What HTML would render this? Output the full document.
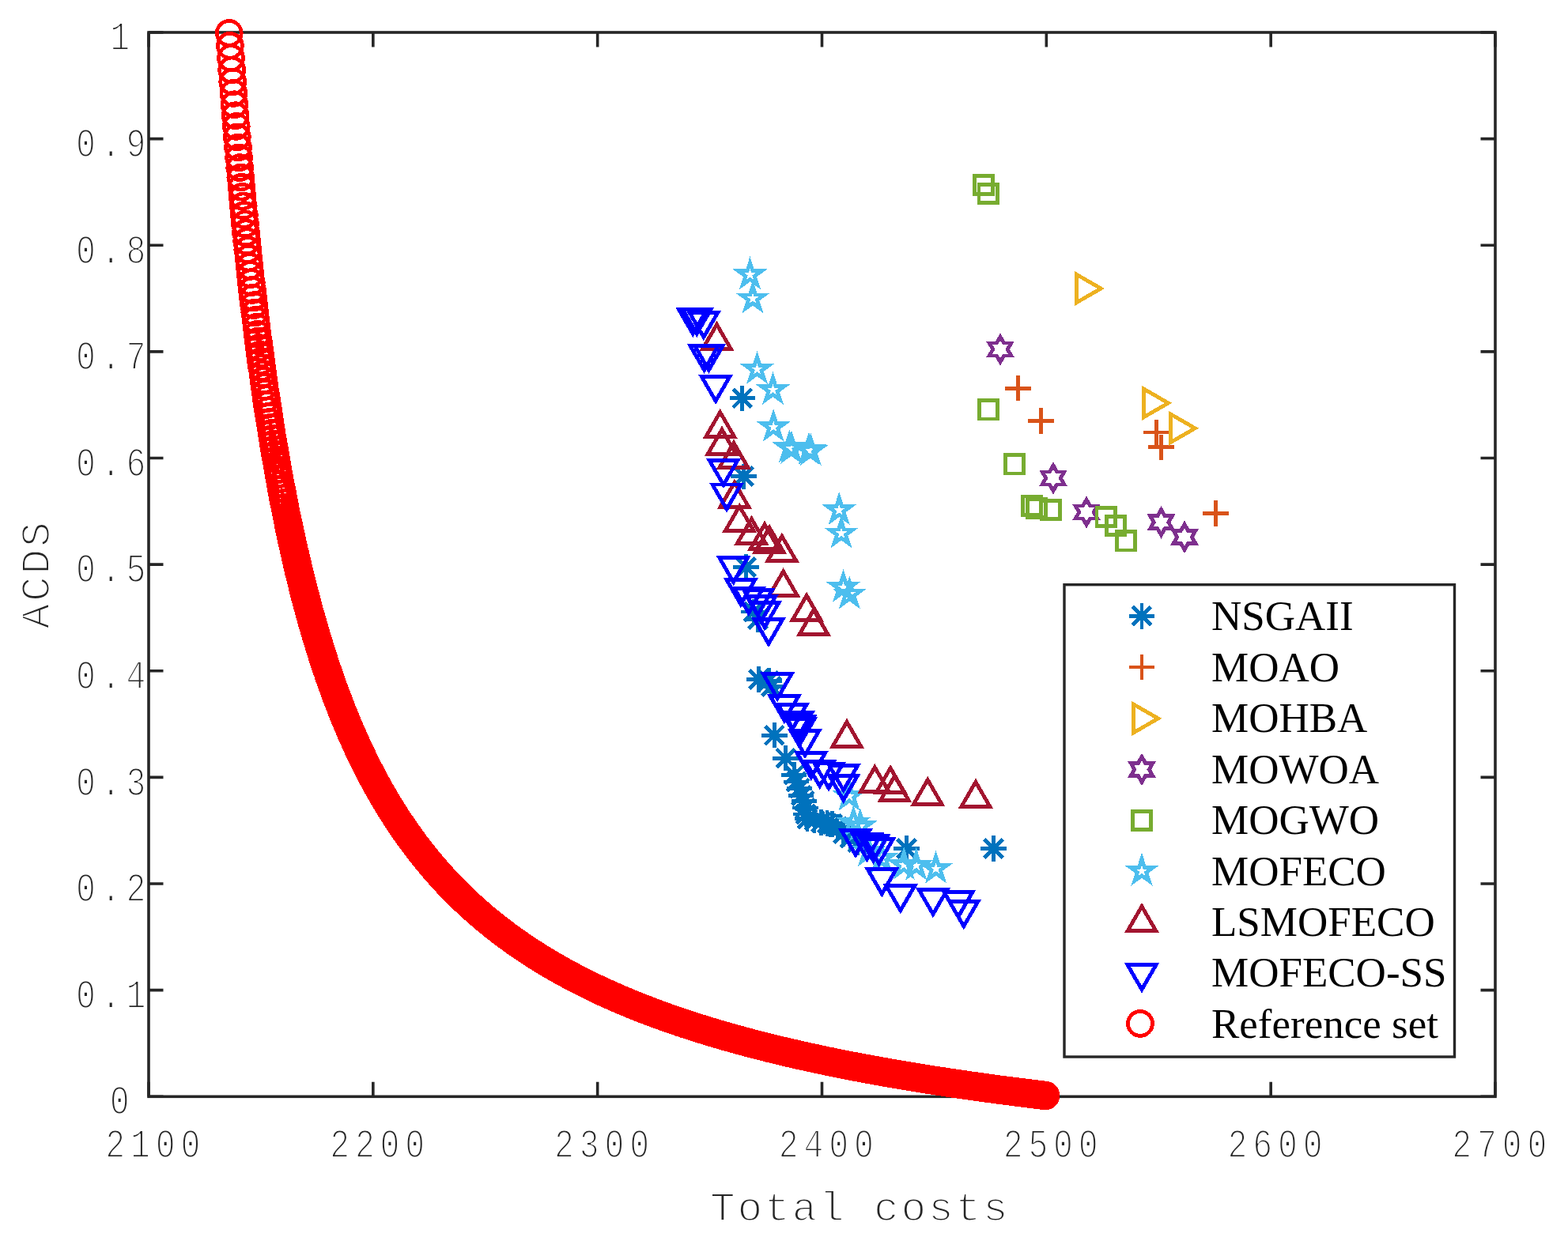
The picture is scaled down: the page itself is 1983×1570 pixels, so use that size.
<!DOCTYPE html><html><head><meta charset="utf-8"><title>Pareto fronts: Total costs vs ACDS</title><style>html,body{margin:0;padding:0;background:#fff;overflow:hidden}svg{display:block}.tk{font-family:"Liberation Mono",monospace;fill:#262626;stroke:#fff;stroke-width:2}.lg{font-family:"Liberation Serif",serif;font-size:53px;fill:#000}</style></head><body><svg xmlns="http://www.w3.org/2000/svg" width="1983" height="1570" viewBox="0 0 1983 1570"><defs><path id="up" d="M0 -20.67 17.9 10.33 -17.9 10.33Z"/><path id="dn" d="M0 20.67 -17.9 -10.34 17.9 -10.34Z"/><path id="rt" d="M20.67 0 -10.33 17.9 -10.34 -17.9Z"/><path id="pent" d="M0 -15.4 3.46 -4.76 14.65 -4.76 5.59 1.82 9.05 12.46 0 5.88 -9.05 12.46 -5.59 1.82 -14.65 -4.76 -3.46 -4.76Z"/><path id="hex" d="M0 -16 4.62 -8 13.86 -8 9.24 0 13.86 8 4.62 8 0 16 -4.62 8 -13.86 8 -9.24 0 -13.86 -8 -4.62 -8Z"/><path id="sq" d="M-11.6 -11.6 11.6 -11.6 11.6 11.6 -11.6 11.6Z"/><path id="plus" d="M0 -16.2 V16.2 M-16.2 0 H16.2"/><path id="ast" d="M0 -16.2 V16.2 M-16.2 0 H16.2 M-11.67 -11.67 L11.67 11.67 M-11.67 11.67 L11.67 -11.67"/></defs><rect width="1983" height="1570" fill="#fff"/><path d="M188 1387.3 V1368.8 M188 41 V59.5 M471.83 1387.3 V1368.8 M471.83 41 V59.5 M755.67 1387.3 V1368.8 M755.67 41 V59.5 M1039.5 1387.3 V1368.8 M1039.5 41 V59.5 M1323.33 1387.3 V1368.8 M1323.33 41 V59.5 M1607.17 1387.3 V1368.8 M1607.17 41 V59.5 M1891 1387.3 V1368.8 M1891 41 V59.5 M188 1387.3 H206.5 M1891 1387.3 H1872.5 M188 1252.67 H206.5 M1891 1252.67 H1872.5 M188 1118.04 H206.5 M1891 1118.04 H1872.5 M188 983.41 H206.5 M1891 983.41 H1872.5 M188 848.78 H206.5 M1891 848.78 H1872.5 M188 714.15 H206.5 M1891 714.15 H1872.5 M188 579.52 H206.5 M1891 579.52 H1872.5 M188 444.89 H206.5 M1891 444.89 H1872.5 M188 310.26 H206.5 M1891 310.26 H1872.5 M188 175.63 H206.5 M1891 175.63 H1872.5 M188 41 H206.5 M1891 41 H1872.5" stroke="#262626" stroke-width="3.6" fill="none"/><rect x="188" y="41" width="1703" height="1346.3" fill="none" stroke="#262626" stroke-width="3.6"/><g fill="none" stroke="#0072BD" stroke-width="4.8" stroke-linejoin="miter" stroke-miterlimit="10" shape-rendering="crispEdges"><use href="#ast" x="938.8" y="503.7"/><use href="#ast" x="940.6" y="602.8"/><use href="#ast" x="943.6" y="717.5"/><use href="#ast" x="953" y="774.1"/><use href="#ast" x="958.5" y="783.8"/><use href="#ast" x="959.7" y="859.6"/><use href="#ast" x="972.4" y="861.2"/><use href="#ast" x="975.8" y="868.6"/><use href="#ast" x="979.4" y="930.2"/><use href="#ast" x="993.6" y="959.2"/><use href="#ast" x="1004.2" y="980.4"/><use href="#ast" x="1007" y="989"/><use href="#ast" x="1011.3" y="997.3"/><use href="#ast" x="1013.3" y="1006.4"/><use href="#ast" x="1017.3" y="1013.3"/><use href="#ast" x="1018.5" y="1022"/><use href="#ast" x="1019.3" y="1030"/><use href="#ast" x="1021" y="1035.7"/><use href="#ast" x="1030" y="1038"/><use href="#ast" x="1038.2" y="1040.3"/><use href="#ast" x="1046" y="1041.5"/><use href="#ast" x="1052.7" y="1042.5"/><use href="#ast" x="1058.9" y="1045.9"/><use href="#ast" x="1066.5" y="1054.4"/><use href="#ast" x="1075" y="1060"/><use href="#ast" x="1084.8" y="1065.7"/><use href="#ast" x="1146.4" y="1073.4"/><use href="#ast" x="1256.6" y="1073.4"/></g><g fill="none" stroke="#D95319" stroke-width="4.8" stroke-linejoin="miter" stroke-miterlimit="10" shape-rendering="crispEdges"><use href="#plus" x="1287.5" y="491.2"/><use href="#plus" x="1316.4" y="532.5"/><use href="#plus" x="1462.4" y="547.1"/><use href="#plus" x="1468.4" y="565.7"/><use href="#plus" x="1537.5" y="649.5"/></g><g fill="none" stroke="#EDB120" stroke-width="4.8" stroke-linejoin="miter" stroke-miterlimit="10" shape-rendering="crispEdges"><use href="#rt" x="1371.6" y="365"/><use href="#rt" x="1456.8" y="509.9"/><use href="#rt" x="1490.7" y="541.8"/></g><g fill="none" stroke="#7E2F8E" stroke-width="4.8" stroke-linejoin="miter" stroke-miterlimit="10" shape-rendering="crispEdges"><use href="#hex" x="1265" y="442"/><use href="#hex" x="1332" y="604.9"/><use href="#hex" x="1374" y="648"/><use href="#hex" x="1468.5" y="660.8"/><use href="#hex" x="1498" y="679.4"/></g><g fill="none" stroke="#77AC30" stroke-width="4.8" stroke-linejoin="miter" stroke-miterlimit="10" shape-rendering="crispEdges"><use href="#sq" x="1244" y="233.9"/><use href="#sq" x="1249.5" y="245"/><use href="#sq" x="1250" y="518.4"/><use href="#sq" x="1283" y="587.4"/><use href="#sq" x="1305" y="639.5"/><use href="#sq" x="1311" y="643"/><use href="#sq" x="1328.5" y="645"/><use href="#sq" x="1398.5" y="654"/><use href="#sq" x="1411" y="665"/><use href="#sq" x="1424" y="684.4"/></g><g fill="none" stroke="#4DBEEE" stroke-width="4.8" stroke-linejoin="miter" stroke-miterlimit="10" shape-rendering="crispEdges"><use href="#pent" x="948.5" y="347.6"/><use href="#pent" x="952" y="377.7"/><use href="#pent" x="957.5" y="467.2"/><use href="#pent" x="977.5" y="493.3"/><use href="#pent" x="978.2" y="540.1"/><use href="#pent" x="998.4" y="566.5"/><use href="#pent" x="1001.1" y="567.8"/><use href="#pent" x="1023" y="569.5"/><use href="#pent" x="1025.3" y="570.4"/><use href="#pent" x="1061.2" y="645.4"/><use href="#pent" x="1064" y="674.8"/><use href="#pent" x="1066.5" y="743.2"/><use href="#pent" x="1074.4" y="751.8"/><use href="#pent" x="1074" y="1007.2"/><use href="#pent" x="1079.3" y="1041.2"/><use href="#pent" x="1087.9" y="1045.3"/><use href="#pent" x="1098.5" y="1077.5"/><use href="#pent" x="1115" y="1086"/><use href="#pent" x="1143.1" y="1094.2"/><use href="#pent" x="1158.7" y="1095"/><use href="#pent" x="1183.6" y="1099"/></g><g fill="none" stroke="#A2142F" stroke-width="4.8" stroke-linejoin="miter" stroke-miterlimit="10" shape-rendering="crispEdges"><use href="#up" x="906.5" y="431.2"/><use href="#up" x="910.7" y="542.1"/><use href="#up" x="913" y="564.1"/><use href="#up" x="927.9" y="580.9"/><use href="#up" x="928.9" y="631"/><use href="#up" x="935.2" y="661.1"/><use href="#up" x="950.4" y="677"/><use href="#up" x="967" y="684"/><use href="#up" x="973.1" y="688.1"/><use href="#up" x="988.9" y="699"/><use href="#up" x="990.6" y="743.5"/><use href="#up" x="1020.1" y="774"/><use href="#up" x="1029" y="792.1"/><use href="#up" x="1071" y="933.9"/><use href="#up" x="1106.3" y="991.3"/><use href="#up" x="1126.1" y="992.3"/><use href="#up" x="1131.4" y="1002.5"/><use href="#up" x="1173.2" y="1007.2"/><use href="#up" x="1233.9" y="1009.9"/></g><g fill="none" stroke="#0000FF" stroke-width="4.8" stroke-linejoin="miter" stroke-miterlimit="10" shape-rendering="crispEdges"><use href="#dn" x="876.2" y="401.6"/><use href="#dn" x="881.2" y="401.6"/><use href="#dn" x="889.9" y="405.8"/><use href="#dn" x="890.6" y="447.5"/><use href="#dn" x="896.4" y="447.5"/><use href="#dn" x="905.1" y="486.6"/><use href="#dn" x="915" y="592.7"/><use href="#dn" x="919" y="623.4"/><use href="#dn" x="927.6" y="715.8"/><use href="#dn" x="936.9" y="743.9"/><use href="#dn" x="946.8" y="754.9"/><use href="#dn" x="958.6" y="756.8"/><use href="#dn" x="962.8" y="764.9"/><use href="#dn" x="967" y="772.9"/><use href="#dn" x="972" y="793.8"/><use href="#dn" x="983.2" y="863"/><use href="#dn" x="992" y="890.9"/><use href="#dn" x="1002" y="901.9"/><use href="#dn" x="1008.9" y="911.9"/><use href="#dn" x="1011.6" y="916.8"/><use href="#dn" x="1012" y="920"/><use href="#dn" x="1018" y="934.8"/><use href="#dn" x="1025.8" y="962.8"/><use href="#dn" x="1036.7" y="973.8"/><use href="#dn" x="1048" y="976.4"/><use href="#dn" x="1066.7" y="979"/><use href="#dn" x="1066.7" y="991.6"/><use href="#dn" x="1082" y="1060.8"/><use href="#dn" x="1096.5" y="1065.8"/><use href="#dn" x="1104.5" y="1068.1"/><use href="#dn" x="1111.5" y="1071.9"/><use href="#dn" x="1115.3" y="1110.2"/><use href="#dn" x="1138.8" y="1131.2"/><use href="#dn" x="1180" y="1135.9"/><use href="#dn" x="1211.9" y="1139.1"/><use href="#dn" x="1218.8" y="1151.1"/></g><g fill="none" stroke="#FF0000" stroke-width="4.8" shape-rendering="crispEdges"><circle cx="289.78" cy="41.9" r="15.45"/><circle cx="290.9" cy="57.76" r="15.45"/><circle cx="292.02" cy="73.28" r="15.45"/><circle cx="293.14" cy="88.48" r="15.45"/><circle cx="294.26" cy="103.35" r="15.45"/><circle cx="295.38" cy="117.93" r="15.45"/><circle cx="296.5" cy="132.2" r="15.45"/><circle cx="297.62" cy="146.19" r="15.45"/><circle cx="298.74" cy="159.9" r="15.45"/><circle cx="299.86" cy="173.34" r="15.45"/><circle cx="300.98" cy="186.51" r="15.45"/><circle cx="302.1" cy="199.43" r="15.45"/><circle cx="303.23" cy="212.1" r="15.45"/><circle cx="304.35" cy="224.53" r="15.45"/><circle cx="305.47" cy="236.73" r="15.45"/><circle cx="306.59" cy="248.69" r="15.45"/><circle cx="307.71" cy="260.44" r="15.45"/><circle cx="308.83" cy="271.97" r="15.45"/><circle cx="309.95" cy="283.29" r="15.45"/><circle cx="311.07" cy="294.41" r="15.45"/><circle cx="312.19" cy="305.33" r="15.45"/><circle cx="313.31" cy="316.06" r="15.45"/><circle cx="314.43" cy="326.6" r="15.45"/><circle cx="315.55" cy="336.95" r="15.45"/><circle cx="316.67" cy="347.13" r="15.45"/><circle cx="317.8" cy="357.13" r="15.45"/><circle cx="318.92" cy="366.97" r="15.45"/><circle cx="320.04" cy="376.64" r="15.45"/><circle cx="321.16" cy="386.14" r="15.45"/><circle cx="322.28" cy="395.5" r="15.45"/><circle cx="323.4" cy="404.69" r="15.45"/><circle cx="324.52" cy="413.74" r="15.45"/><circle cx="325.64" cy="422.65" r="15.45"/><circle cx="326.76" cy="431.41" r="15.45"/><circle cx="327.88" cy="440.03" r="15.45"/><circle cx="329" cy="448.51" r="15.45"/><circle cx="330.12" cy="456.87" r="15.45"/><circle cx="331.24" cy="465.09" r="15.45"/><circle cx="332.37" cy="473.19" r="15.45"/><circle cx="333.49" cy="481.17" r="15.45"/><circle cx="334.61" cy="489.02" r="15.45"/><circle cx="335.73" cy="496.76" r="15.45"/><circle cx="336.85" cy="504.38" r="15.45"/><circle cx="337.97" cy="511.88" r="15.45"/><circle cx="339.09" cy="519.28" r="15.45"/><circle cx="340.21" cy="526.57" r="15.45"/><circle cx="341.33" cy="533.76" r="15.45"/><circle cx="342.45" cy="540.84" r="15.45"/><circle cx="343.57" cy="547.82" r="15.45"/><circle cx="344.69" cy="554.7" r="15.45"/><circle cx="345.81" cy="561.48" r="15.45"/><circle cx="346.94" cy="568.17" r="15.45"/><circle cx="348.06" cy="574.77" r="15.45"/><circle cx="349.18" cy="581.27" r="15.45"/><circle cx="350.3" cy="587.69" r="15.45"/><circle cx="351.42" cy="594.02" r="15.45" stroke-width="4.83"/><circle cx="352.54" cy="600.26" r="15.45" stroke-width="4.86"/><circle cx="353.66" cy="606.42" r="15.45" stroke-width="4.9"/><circle cx="354.78" cy="612.5" r="15.45" stroke-width="4.93"/><circle cx="355.9" cy="618.5" r="15.45" stroke-width="4.96"/><circle cx="357.02" cy="624.42" r="15.45" stroke-width="4.99"/><circle cx="358.14" cy="630.26" r="15.45" stroke-width="5.02"/><circle cx="359.26" cy="636.03" r="15.45" stroke-width="5.05"/><circle cx="360.38" cy="641.72" r="15.45" stroke-width="5.08"/><circle cx="361.51" cy="647.34" r="15.45" stroke-width="5.11"/><circle cx="362.63" cy="652.88" r="15.45" stroke-width="5.14"/><circle cx="363.75" cy="658.36" r="15.45" stroke-width="5.16"/><circle cx="364.87" cy="663.77" r="15.45" stroke-width="5.19"/><circle cx="365.99" cy="669.11" r="15.45" stroke-width="5.22"/><circle cx="367.11" cy="674.38" r="15.45" stroke-width="5.24"/><circle cx="368.23" cy="679.59" r="15.45" stroke-width="5.27"/><circle cx="369.35" cy="684.74" r="15.45" stroke-width="5.29"/><circle cx="370.47" cy="689.82" r="15.45" stroke-width="5.32"/><circle cx="371.59" cy="694.84" r="15.45" stroke-width="5.34"/><circle cx="372.71" cy="699.81" r="15.45" stroke-width="5.37"/><circle cx="373.83" cy="704.71" r="15.45" stroke-width="5.39"/><circle cx="374.95" cy="709.55" r="15.45" stroke-width="5.41"/><circle cx="376.08" cy="714.34" r="15.45" stroke-width="5.43"/><circle cx="377.2" cy="719.07" r="15.45" stroke-width="5.46"/><circle cx="378.32" cy="723.74" r="15.45" stroke-width="5.48"/><circle cx="379.44" cy="728.36" r="15.45" stroke-width="5.5"/><circle cx="380.56" cy="732.93" r="15.45" stroke-width="5.52"/><circle cx="381.68" cy="737.44" r="15.45" stroke-width="5.54"/><circle cx="382.8" cy="741.91" r="15.45" stroke-width="5.56"/><circle cx="383.92" cy="746.32" r="15.45" stroke-width="5.58"/><circle cx="385.04" cy="750.68" r="15.45" stroke-width="5.6"/><circle cx="386.16" cy="754.99" r="15.45" stroke-width="5.6"/><circle cx="387.28" cy="759.26" r="15.45" stroke-width="5.6"/><circle cx="388.4" cy="763.48" r="15.45" stroke-width="5.6"/><circle cx="389.52" cy="767.65" r="15.45" stroke-width="5.6"/><circle cx="390.65" cy="771.77" r="15.45" stroke-width="5.6"/><circle cx="391.77" cy="775.86" r="15.45" stroke-width="5.6"/><circle cx="392.89" cy="779.89" r="15.45" stroke-width="5.6"/><circle cx="394.01" cy="783.88" r="15.45" stroke-width="5.6"/><circle cx="395.13" cy="787.83" r="15.45" stroke-width="5.6"/><circle cx="396.25" cy="791.74" r="15.45" stroke-width="5.6"/><circle cx="397.37" cy="795.61" r="15.45" stroke-width="5.6"/><circle cx="398.49" cy="799.43" r="15.45" stroke-width="5.6"/><circle cx="399.61" cy="803.22" r="15.45" stroke-width="5.6"/><circle cx="400.73" cy="806.96" r="15.45" stroke-width="5.6"/><circle cx="401.85" cy="810.67" r="15.45" stroke-width="5.6"/><circle cx="402.97" cy="814.34" r="15.45" stroke-width="5.6"/><circle cx="404.09" cy="817.97" r="15.45" stroke-width="5.6"/><circle cx="405.22" cy="821.56" r="15.45" stroke-width="5.6"/><circle cx="406.34" cy="825.12" r="15.45" stroke-width="5.6"/><circle cx="407.46" cy="828.64" r="15.45" stroke-width="5.6"/><circle cx="408.58" cy="832.12" r="15.45" stroke-width="5.6"/><circle cx="409.7" cy="835.57" r="15.45" stroke-width="5.6"/><circle cx="410.82" cy="838.99" r="15.45" stroke-width="5.6"/><circle cx="411.94" cy="842.37" r="15.45" stroke-width="5.6"/><circle cx="413.06" cy="845.72" r="15.45" stroke-width="5.6"/><circle cx="414.18" cy="849.04" r="15.45" stroke-width="5.6"/><circle cx="415.3" cy="852.32" r="15.45" stroke-width="5.6"/><circle cx="416.42" cy="855.57" r="15.45" stroke-width="5.6"/><circle cx="417.54" cy="858.79" r="15.45" stroke-width="5.6"/><circle cx="418.66" cy="861.98" r="15.45" stroke-width="5.6"/><circle cx="419.79" cy="865.13" r="15.45" stroke-width="5.6"/><circle cx="420.91" cy="868.26" r="15.45" stroke-width="5.6"/><circle cx="422.03" cy="871.36" r="15.45" stroke-width="5.6"/><circle cx="423.15" cy="874.43" r="15.45" stroke-width="5.6"/><circle cx="424.27" cy="877.47" r="15.45" stroke-width="5.6"/><circle cx="425.39" cy="880.48" r="15.45" stroke-width="5.6"/><circle cx="426.51" cy="883.46" r="15.45" stroke-width="5.6"/><circle cx="427.63" cy="886.42" r="15.45" stroke-width="5.6"/><circle cx="428.75" cy="889.34" r="15.45" stroke-width="5.6"/><circle cx="429.87" cy="892.24" r="15.45" stroke-width="5.6"/><circle cx="430.99" cy="895.12" r="15.45" stroke-width="5.6"/><circle cx="432.11" cy="897.97" r="15.45" stroke-width="5.6"/><circle cx="433.23" cy="900.79" r="15.45" stroke-width="5.6"/><circle cx="434.36" cy="903.58" r="15.45" stroke-width="5.6"/><circle cx="435.48" cy="906.36" r="15.45" stroke-width="5.6"/><circle cx="436.6" cy="909.1" r="15.45" stroke-width="5.6"/><circle cx="437.72" cy="911.83" r="15.45" stroke-width="5.6"/><circle cx="438.84" cy="914.52" r="15.45" stroke-width="5.6"/><circle cx="439.96" cy="917.2" r="15.45" stroke-width="5.6"/><circle cx="441.08" cy="919.85" r="15.45" stroke-width="5.6"/><circle cx="442.2" cy="922.48" r="15.45" stroke-width="5.6"/><circle cx="443.32" cy="925.08" r="15.45" stroke-width="5.6"/><circle cx="444.44" cy="927.66" r="15.45" stroke-width="5.6"/><circle cx="445.56" cy="930.22" r="15.45" stroke-width="5.6"/><circle cx="446.68" cy="932.76" r="15.45" stroke-width="5.6"/><circle cx="447.8" cy="935.27" r="15.45" stroke-width="5.6"/><circle cx="448.93" cy="937.77" r="15.45" stroke-width="5.6"/><circle cx="450.05" cy="940.24" r="15.45" stroke-width="5.6"/><circle cx="451.17" cy="942.69" r="15.45" stroke-width="5.6"/><circle cx="452.29" cy="945.13" r="15.45" stroke-width="5.6"/><circle cx="453.41" cy="947.54" r="15.45" stroke-width="5.6"/><circle cx="454.53" cy="949.93" r="15.45" stroke-width="5.6"/><circle cx="455.65" cy="952.3" r="15.45" stroke-width="5.6"/><circle cx="456.77" cy="954.65" r="15.45" stroke-width="5.6"/><circle cx="457.89" cy="956.98" r="15.45" stroke-width="5.6"/><circle cx="459.01" cy="959.29" r="15.45" stroke-width="5.6"/><circle cx="460.13" cy="961.59" r="15.45" stroke-width="5.6"/><circle cx="461.25" cy="963.86" r="15.45" stroke-width="5.6"/><circle cx="462.37" cy="966.12" r="15.45" stroke-width="5.6"/><circle cx="463.49" cy="968.36" r="15.45" stroke-width="5.6"/><circle cx="464.62" cy="970.58" r="15.45" stroke-width="5.6"/><circle cx="465.74" cy="972.78" r="15.45" stroke-width="5.6"/><circle cx="466.86" cy="974.97" r="15.45" stroke-width="5.6"/><circle cx="467.98" cy="977.13" r="15.45" stroke-width="5.6"/><circle cx="469.1" cy="979.28" r="15.45" stroke-width="5.6"/><circle cx="470.22" cy="981.42" r="15.45" stroke-width="5.6"/><circle cx="471.34" cy="983.53" r="15.45" stroke-width="5.6"/><circle cx="472.46" cy="985.63" r="15.45" stroke-width="5.6"/><circle cx="473.58" cy="987.72" r="15.45" stroke-width="5.6"/><circle cx="474.7" cy="989.79" r="15.45" stroke-width="5.6"/><circle cx="475.82" cy="991.84" r="15.45" stroke-width="5.6"/><circle cx="476.94" cy="993.87" r="15.45" stroke-width="5.6"/><circle cx="478.06" cy="995.89" r="15.45" stroke-width="5.6"/><circle cx="479.19" cy="997.9" r="15.45" stroke-width="5.6"/><circle cx="480.31" cy="999.89" r="15.45" stroke-width="5.6"/><circle cx="481.43" cy="1001.86" r="15.45" stroke-width="5.6"/><circle cx="482.55" cy="1003.82" r="15.45" stroke-width="5.6"/><circle cx="483.67" cy="1005.76" r="15.45" stroke-width="5.6"/><circle cx="484.79" cy="1007.69" r="15.45" stroke-width="5.6"/><circle cx="485.91" cy="1009.61" r="15.45" stroke-width="5.6"/><circle cx="487.03" cy="1011.51" r="15.45" stroke-width="5.6"/><circle cx="488.15" cy="1013.4" r="15.45" stroke-width="5.6"/><circle cx="489.27" cy="1015.27" r="15.45" stroke-width="5.6"/><circle cx="490.39" cy="1017.13" r="15.45" stroke-width="5.6"/><circle cx="491.51" cy="1018.98" r="15.45" stroke-width="5.6"/><circle cx="492.63" cy="1020.81" r="15.45" stroke-width="5.6"/><circle cx="493.76" cy="1022.63" r="15.45" stroke-width="5.6"/><circle cx="494.88" cy="1024.43" r="15.45" stroke-width="5.6"/><circle cx="496" cy="1026.23" r="15.45" stroke-width="5.6"/><circle cx="497.12" cy="1028" r="15.45" stroke-width="5.6"/><circle cx="498.24" cy="1029.77" r="15.45" stroke-width="5.6"/><circle cx="499.36" cy="1031.53" r="15.45" stroke-width="5.6"/><circle cx="500.48" cy="1033.27" r="15.45" stroke-width="5.6"/><circle cx="501.6" cy="1035" r="15.45" stroke-width="5.6"/><circle cx="502.72" cy="1036.71" r="15.45" stroke-width="5.6"/><circle cx="503.84" cy="1038.42" r="15.45" stroke-width="5.6"/><circle cx="504.96" cy="1040.11" r="15.45" stroke-width="5.6"/><circle cx="506.08" cy="1041.79" r="15.45" stroke-width="5.6"/><circle cx="507.2" cy="1043.46" r="15.45" stroke-width="5.6"/><circle cx="508.33" cy="1045.12" r="15.45" stroke-width="5.6"/><circle cx="509.45" cy="1046.77" r="15.45" stroke-width="5.6"/><circle cx="510.57" cy="1048.4" r="15.45" stroke-width="5.6"/><circle cx="511.69" cy="1050.02" r="15.45" stroke-width="5.6"/><circle cx="512.81" cy="1051.64" r="15.45" stroke-width="5.6"/><circle cx="513.93" cy="1053.24" r="15.45" stroke-width="5.6"/><circle cx="515.05" cy="1054.83" r="15.45" stroke-width="5.6"/><circle cx="516.17" cy="1056.41" r="15.45" stroke-width="5.6"/><circle cx="517.29" cy="1057.98" r="15.45" stroke-width="5.6"/><circle cx="518.41" cy="1059.54" r="15.45" stroke-width="5.6"/><circle cx="519.53" cy="1061.08" r="15.45" stroke-width="5.6"/><circle cx="520.65" cy="1062.62" r="15.45" stroke-width="5.6"/><circle cx="521.77" cy="1064.15" r="15.45" stroke-width="5.6"/><circle cx="522.9" cy="1065.67" r="15.45" stroke-width="5.6"/><circle cx="524.02" cy="1067.17" r="15.45" stroke-width="5.6"/><circle cx="525.14" cy="1068.67" r="15.45" stroke-width="5.6"/><circle cx="526.26" cy="1070.16" r="15.45" stroke-width="5.6"/><circle cx="527.38" cy="1071.64" r="15.45" stroke-width="5.6"/><circle cx="528.5" cy="1073.1" r="15.45" stroke-width="5.6"/><circle cx="529.62" cy="1074.56" r="15.45" stroke-width="5.6"/><circle cx="530.74" cy="1076.01" r="15.45" stroke-width="5.6"/><circle cx="531.86" cy="1077.45" r="15.45" stroke-width="5.6"/><circle cx="532.98" cy="1078.88" r="15.45" stroke-width="5.6"/><circle cx="534.1" cy="1080.3" r="15.45" stroke-width="5.6"/><circle cx="535.22" cy="1081.71" r="15.45" stroke-width="5.6"/><circle cx="536.34" cy="1083.11" r="15.45" stroke-width="5.6"/><circle cx="537.47" cy="1084.51" r="15.45" stroke-width="5.6"/><circle cx="538.59" cy="1085.89" r="15.45" stroke-width="5.6"/><circle cx="539.71" cy="1087.27" r="15.45" stroke-width="5.6"/><circle cx="540.83" cy="1088.64" r="15.45" stroke-width="5.6"/><circle cx="541.95" cy="1090" r="15.45" stroke-width="5.6"/><circle cx="543.07" cy="1091.35" r="15.45" stroke-width="5.6"/><circle cx="544.19" cy="1092.69" r="15.45" stroke-width="5.6"/><circle cx="545.31" cy="1094.02" r="15.45" stroke-width="5.6"/><circle cx="546.43" cy="1095.35" r="15.45" stroke-width="5.6"/><circle cx="547.55" cy="1096.66" r="15.45" stroke-width="5.6"/><circle cx="548.67" cy="1097.97" r="15.45" stroke-width="5.6"/><circle cx="549.79" cy="1099.27" r="15.45" stroke-width="5.6"/><circle cx="550.91" cy="1100.57" r="15.45" stroke-width="5.6"/><circle cx="552.04" cy="1101.85" r="15.45" stroke-width="5.6"/><circle cx="553.16" cy="1103.13" r="15.45" stroke-width="5.6"/><circle cx="554.28" cy="1104.4" r="15.45" stroke-width="5.6"/><circle cx="555.4" cy="1105.66" r="15.45" stroke-width="5.6"/><circle cx="556.52" cy="1106.91" r="15.45" stroke-width="5.6"/><circle cx="557.64" cy="1108.16" r="15.45" stroke-width="5.6"/><circle cx="558.76" cy="1109.4" r="15.45" stroke-width="5.6"/><circle cx="559.88" cy="1110.63" r="15.45" stroke-width="5.6"/><circle cx="561" cy="1111.85" r="15.45" stroke-width="5.6"/><circle cx="562.12" cy="1113.07" r="15.45" stroke-width="5.6"/><circle cx="563.24" cy="1114.28" r="15.45" stroke-width="5.6"/><circle cx="564.36" cy="1115.48" r="15.45" stroke-width="5.6"/><circle cx="565.48" cy="1116.68" r="15.45" stroke-width="5.6"/><circle cx="566.61" cy="1117.87" r="15.45" stroke-width="5.6"/><circle cx="567.73" cy="1119.05" r="15.45" stroke-width="5.6"/><circle cx="568.85" cy="1120.22" r="15.45" stroke-width="5.6"/><circle cx="569.97" cy="1121.39" r="15.45" stroke-width="5.6"/><circle cx="571.09" cy="1122.55" r="15.45" stroke-width="5.6"/><circle cx="572.21" cy="1123.7" r="15.45" stroke-width="5.6"/><circle cx="573.33" cy="1124.85" r="15.45" stroke-width="5.6"/><circle cx="574.45" cy="1125.99" r="15.45" stroke-width="5.6"/><circle cx="575.57" cy="1127.12" r="15.45" stroke-width="5.6"/><circle cx="576.69" cy="1128.25" r="15.45" stroke-width="5.6"/><circle cx="577.81" cy="1129.37" r="15.45" stroke-width="5.6"/><circle cx="578.93" cy="1130.49" r="15.45" stroke-width="5.6"/><circle cx="580.05" cy="1131.6" r="15.45" stroke-width="5.6"/><circle cx="581.18" cy="1132.7" r="15.45" stroke-width="5.6"/><circle cx="582.3" cy="1133.79" r="15.45" stroke-width="5.6"/><circle cx="583.42" cy="1134.88" r="15.45" stroke-width="5.6"/><circle cx="584.54" cy="1135.97" r="15.45" stroke-width="5.6"/><circle cx="585.66" cy="1137.05" r="15.45" stroke-width="5.6"/><circle cx="586.78" cy="1138.12" r="15.45" stroke-width="5.6"/><circle cx="587.9" cy="1139.18" r="15.45" stroke-width="5.6"/><circle cx="589.02" cy="1140.24" r="15.45" stroke-width="5.6"/><circle cx="590.14" cy="1141.3" r="15.45" stroke-width="5.6"/><circle cx="591.26" cy="1142.34" r="15.45" stroke-width="5.6"/><circle cx="592.38" cy="1143.39" r="15.45" stroke-width="5.6"/><circle cx="593.5" cy="1144.42" r="15.45" stroke-width="5.6"/><circle cx="594.62" cy="1145.45" r="15.45" stroke-width="5.6"/><circle cx="595.75" cy="1146.48" r="15.45" stroke-width="5.6"/><circle cx="596.87" cy="1147.5" r="15.45" stroke-width="5.6"/><circle cx="597.99" cy="1148.51" r="15.45" stroke-width="5.6"/><circle cx="599.11" cy="1149.52" r="15.45" stroke-width="5.6"/><circle cx="600.23" cy="1150.52" r="15.45" stroke-width="5.6"/><circle cx="601.35" cy="1151.52" r="15.45" stroke-width="5.6"/><circle cx="602.47" cy="1152.51" r="15.45" stroke-width="5.6"/><circle cx="603.59" cy="1153.5" r="15.45" stroke-width="5.6"/><circle cx="604.71" cy="1154.48" r="15.45" stroke-width="5.6"/><circle cx="605.83" cy="1155.46" r="15.45" stroke-width="5.6"/><circle cx="606.95" cy="1156.43" r="15.45" stroke-width="5.6"/><circle cx="608.07" cy="1157.39" r="15.45" stroke-width="5.6"/><circle cx="609.19" cy="1158.36" r="15.45" stroke-width="5.6"/><circle cx="610.31" cy="1159.31" r="15.45" stroke-width="5.6"/><circle cx="611.44" cy="1160.26" r="15.45" stroke-width="5.6"/><circle cx="612.56" cy="1161.21" r="15.45" stroke-width="5.6"/><circle cx="613.68" cy="1162.15" r="15.45" stroke-width="5.6"/><circle cx="614.8" cy="1163.08" r="15.45" stroke-width="5.6"/><circle cx="615.92" cy="1164.02" r="15.45" stroke-width="5.6"/><circle cx="617.04" cy="1164.94" r="15.45" stroke-width="5.6"/><circle cx="618.16" cy="1165.86" r="15.45" stroke-width="5.6"/><circle cx="619.28" cy="1166.78" r="15.45" stroke-width="5.6"/><circle cx="620.4" cy="1167.69" r="15.45" stroke-width="5.6"/><circle cx="621.52" cy="1168.6" r="15.45" stroke-width="5.6"/><circle cx="622.64" cy="1169.5" r="15.45" stroke-width="5.6"/><circle cx="623.76" cy="1170.4" r="15.45" stroke-width="5.6"/><circle cx="624.88" cy="1171.29" r="15.45" stroke-width="5.6"/><circle cx="626.01" cy="1172.18" r="15.45" stroke-width="5.6"/><circle cx="627.13" cy="1173.07" r="15.45" stroke-width="5.6"/><circle cx="628.25" cy="1173.95" r="15.45" stroke-width="5.6"/><circle cx="629.37" cy="1174.82" r="15.45" stroke-width="5.6"/><circle cx="630.49" cy="1175.69" r="15.45" stroke-width="5.6"/><circle cx="631.61" cy="1176.56" r="15.45" stroke-width="5.6"/><circle cx="632.73" cy="1177.42" r="15.45" stroke-width="5.6"/><circle cx="633.85" cy="1178.28" r="15.45" stroke-width="5.6"/><circle cx="634.97" cy="1179.13" r="15.45" stroke-width="5.6"/><circle cx="636.09" cy="1179.98" r="15.45" stroke-width="5.6"/><circle cx="637.21" cy="1180.83" r="15.45" stroke-width="5.6"/><circle cx="638.33" cy="1181.67" r="15.45" stroke-width="5.6"/><circle cx="639.45" cy="1182.51" r="15.45" stroke-width="5.6"/><circle cx="640.58" cy="1183.34" r="15.45" stroke-width="5.6"/><circle cx="641.7" cy="1184.17" r="15.45" stroke-width="5.6"/><circle cx="642.82" cy="1184.99" r="15.45" stroke-width="5.6"/><circle cx="643.94" cy="1185.81" r="15.45" stroke-width="5.6"/><circle cx="645.06" cy="1186.63" r="15.45" stroke-width="5.6"/><circle cx="646.18" cy="1187.44" r="15.45" stroke-width="5.6"/><circle cx="647.3" cy="1188.25" r="15.45" stroke-width="5.6"/><circle cx="648.42" cy="1189.05" r="15.45" stroke-width="5.6"/><circle cx="649.54" cy="1189.86" r="15.45" stroke-width="5.6"/><circle cx="650.66" cy="1190.65" r="15.45" stroke-width="5.6"/><circle cx="651.78" cy="1191.45" r="15.45" stroke-width="5.6"/><circle cx="652.9" cy="1192.24" r="15.45" stroke-width="5.6"/><circle cx="654.02" cy="1193.02" r="15.45" stroke-width="5.6"/><circle cx="655.15" cy="1193.8" r="15.45" stroke-width="5.6"/><circle cx="656.27" cy="1194.58" r="15.45" stroke-width="5.6"/><circle cx="657.39" cy="1195.35" r="15.45" stroke-width="5.6"/><circle cx="658.51" cy="1196.13" r="15.45" stroke-width="5.6"/><circle cx="659.63" cy="1196.89" r="15.45" stroke-width="5.6"/><circle cx="660.75" cy="1197.66" r="15.45" stroke-width="5.6"/><circle cx="661.87" cy="1198.42" r="15.45" stroke-width="5.6"/><circle cx="662.99" cy="1199.17" r="15.45" stroke-width="5.6"/><circle cx="664.11" cy="1199.93" r="15.45" stroke-width="5.6"/><circle cx="665.23" cy="1200.67" r="15.45" stroke-width="5.6"/><circle cx="666.35" cy="1201.42" r="15.45" stroke-width="5.6"/><circle cx="667.47" cy="1202.16" r="15.45" stroke-width="5.6"/><circle cx="668.59" cy="1202.9" r="15.45" stroke-width="5.6"/><circle cx="669.72" cy="1203.64" r="15.45" stroke-width="5.6"/><circle cx="670.84" cy="1204.37" r="15.45" stroke-width="5.6"/><circle cx="671.96" cy="1205.1" r="15.45" stroke-width="5.6"/><circle cx="673.08" cy="1205.82" r="15.45" stroke-width="5.6"/><circle cx="674.2" cy="1206.55" r="15.45" stroke-width="5.6"/><circle cx="675.32" cy="1207.26" r="15.45" stroke-width="5.6"/><circle cx="676.44" cy="1207.98" r="15.45" stroke-width="5.6"/><circle cx="677.56" cy="1208.69" r="15.45" stroke-width="5.6"/><circle cx="678.68" cy="1209.4" r="15.45" stroke-width="5.6"/><circle cx="679.8" cy="1210.11" r="15.45" stroke-width="5.6"/><circle cx="680.92" cy="1210.81" r="15.45" stroke-width="5.6"/><circle cx="682.04" cy="1211.51" r="15.45" stroke-width="5.6"/><circle cx="683.16" cy="1212.2" r="15.45" stroke-width="5.6"/><circle cx="684.29" cy="1212.9" r="15.45" stroke-width="5.6"/><circle cx="685.41" cy="1213.59" r="15.45" stroke-width="5.6"/><circle cx="686.53" cy="1214.27" r="15.45" stroke-width="5.6"/><circle cx="687.65" cy="1214.96" r="15.45" stroke-width="5.6"/><circle cx="688.77" cy="1215.64" r="15.45" stroke-width="5.6"/><circle cx="689.89" cy="1216.32" r="15.45" stroke-width="5.6"/><circle cx="691.01" cy="1216.99" r="15.45" stroke-width="5.6"/><circle cx="692.13" cy="1217.66" r="15.45" stroke-width="5.6"/><circle cx="693.25" cy="1218.33" r="15.45" stroke-width="5.6"/><circle cx="694.37" cy="1219" r="15.45" stroke-width="5.6"/><circle cx="695.49" cy="1219.66" r="15.45" stroke-width="5.6"/><circle cx="696.61" cy="1220.32" r="15.45" stroke-width="5.6"/><circle cx="697.73" cy="1220.98" r="15.45" stroke-width="5.6"/><circle cx="698.86" cy="1221.63" r="15.45" stroke-width="5.6"/><circle cx="699.98" cy="1222.28" r="15.45" stroke-width="5.6"/><circle cx="701.1" cy="1222.93" r="15.45" stroke-width="5.6"/><circle cx="702.22" cy="1223.58" r="15.45" stroke-width="5.6"/><circle cx="703.34" cy="1224.22" r="15.45" stroke-width="5.6"/><circle cx="704.46" cy="1224.86" r="15.45" stroke-width="5.6"/><circle cx="705.58" cy="1225.5" r="15.45" stroke-width="5.6"/><circle cx="706.7" cy="1226.13" r="15.45" stroke-width="5.6"/><circle cx="707.82" cy="1226.77" r="15.45" stroke-width="5.6"/><circle cx="708.94" cy="1227.4" r="15.45" stroke-width="5.6"/><circle cx="710.06" cy="1228.02" r="15.45" stroke-width="5.6"/><circle cx="711.18" cy="1228.65" r="15.45" stroke-width="5.6"/><circle cx="712.3" cy="1229.27" r="15.45" stroke-width="5.6"/><circle cx="713.43" cy="1229.89" r="15.45" stroke-width="5.6"/><circle cx="714.55" cy="1230.5" r="15.45" stroke-width="5.6"/><circle cx="715.67" cy="1231.12" r="15.45" stroke-width="5.6"/><circle cx="716.79" cy="1231.73" r="15.45" stroke-width="5.6"/><circle cx="717.91" cy="1232.33" r="15.45" stroke-width="5.6"/><circle cx="719.03" cy="1232.94" r="15.45" stroke-width="5.6"/><circle cx="720.15" cy="1233.54" r="15.45" stroke-width="5.6"/><circle cx="721.27" cy="1234.14" r="15.45" stroke-width="5.6"/><circle cx="722.39" cy="1234.74" r="15.45" stroke-width="5.6"/><circle cx="723.51" cy="1235.34" r="15.45" stroke-width="5.6"/><circle cx="724.63" cy="1235.93" r="15.45" stroke-width="5.6"/><circle cx="725.75" cy="1236.52" r="15.45" stroke-width="5.6"/><circle cx="726.87" cy="1237.11" r="15.45" stroke-width="5.6"/><circle cx="728" cy="1237.7" r="15.45" stroke-width="5.6"/><circle cx="729.12" cy="1238.28" r="15.45" stroke-width="5.6"/><circle cx="730.24" cy="1238.86" r="15.45" stroke-width="5.6"/><circle cx="731.36" cy="1239.44" r="15.45" stroke-width="5.6"/><circle cx="732.48" cy="1240.02" r="15.45" stroke-width="5.6"/><circle cx="733.6" cy="1240.59" r="15.45" stroke-width="5.6"/><circle cx="734.72" cy="1241.16" r="15.45" stroke-width="5.6"/><circle cx="735.84" cy="1241.73" r="15.45" stroke-width="5.6"/><circle cx="736.96" cy="1242.3" r="15.45" stroke-width="5.6"/><circle cx="738.08" cy="1242.86" r="15.45" stroke-width="5.6"/><circle cx="739.2" cy="1243.42" r="15.45" stroke-width="5.6"/><circle cx="740.32" cy="1243.98" r="15.45" stroke-width="5.6"/><circle cx="741.44" cy="1244.54" r="15.45" stroke-width="5.6"/><circle cx="742.57" cy="1245.1" r="15.45" stroke-width="5.6"/><circle cx="743.69" cy="1245.65" r="15.45" stroke-width="5.6"/><circle cx="744.81" cy="1246.2" r="15.45" stroke-width="5.6"/><circle cx="745.93" cy="1246.75" r="15.45" stroke-width="5.6"/><circle cx="747.05" cy="1247.3" r="15.45" stroke-width="5.6"/><circle cx="748.17" cy="1247.84" r="15.45" stroke-width="5.6"/><circle cx="749.29" cy="1248.39" r="15.45" stroke-width="5.6"/><circle cx="750.41" cy="1248.93" r="15.45" stroke-width="5.6"/><circle cx="751.53" cy="1249.46" r="15.45" stroke-width="5.6"/><circle cx="752.65" cy="1250" r="15.45" stroke-width="5.6"/><circle cx="753.77" cy="1250.53" r="15.45" stroke-width="5.6"/><circle cx="754.89" cy="1251.07" r="15.45" stroke-width="5.6"/><circle cx="756.01" cy="1251.6" r="15.45" stroke-width="5.6"/><circle cx="757.14" cy="1252.12" r="15.45" stroke-width="5.6"/><circle cx="758.26" cy="1252.65" r="15.45" stroke-width="5.6"/><circle cx="759.38" cy="1253.17" r="15.45" stroke-width="5.6"/><circle cx="760.5" cy="1253.69" r="15.45" stroke-width="5.6"/><circle cx="761.62" cy="1254.21" r="15.45" stroke-width="5.6"/><circle cx="762.74" cy="1254.73" r="15.45" stroke-width="5.6"/><circle cx="763.86" cy="1255.25" r="15.45" stroke-width="5.6"/><circle cx="764.98" cy="1255.76" r="15.45" stroke-width="5.6"/><circle cx="766.1" cy="1256.27" r="15.45" stroke-width="5.6"/><circle cx="767.22" cy="1256.78" r="15.45" stroke-width="5.6"/><circle cx="768.34" cy="1257.29" r="15.45" stroke-width="5.6"/><circle cx="769.46" cy="1257.8" r="15.45" stroke-width="5.6"/><circle cx="770.58" cy="1258.3" r="15.45" stroke-width="5.6"/><circle cx="771.7" cy="1258.8" r="15.45" stroke-width="5.6"/><circle cx="772.83" cy="1259.3" r="15.45" stroke-width="5.6"/><circle cx="773.95" cy="1259.8" r="15.45" stroke-width="5.6"/><circle cx="775.07" cy="1260.29" r="15.45" stroke-width="5.6"/><circle cx="776.19" cy="1260.79" r="15.45" stroke-width="5.6"/><circle cx="777.31" cy="1261.28" r="15.45" stroke-width="5.6"/><circle cx="778.43" cy="1261.77" r="15.45" stroke-width="5.6"/><circle cx="779.55" cy="1262.26" r="15.45" stroke-width="5.6"/><circle cx="780.67" cy="1262.75" r="15.45" stroke-width="5.6"/><circle cx="781.79" cy="1263.23" r="15.45" stroke-width="5.6"/><circle cx="782.91" cy="1263.72" r="15.45" stroke-width="5.6"/><circle cx="784.03" cy="1264.2" r="15.45" stroke-width="5.6"/><circle cx="785.15" cy="1264.68" r="15.45" stroke-width="5.6"/><circle cx="786.27" cy="1265.15" r="15.45" stroke-width="5.6"/><circle cx="787.4" cy="1265.63" r="15.45" stroke-width="5.6"/><circle cx="788.52" cy="1266.1" r="15.45" stroke-width="5.6"/><circle cx="789.64" cy="1266.58" r="15.45" stroke-width="5.6"/><circle cx="790.76" cy="1267.05" r="15.45" stroke-width="5.6"/><circle cx="791.88" cy="1267.52" r="15.45" stroke-width="5.6"/><circle cx="793" cy="1267.98" r="15.45" stroke-width="5.6"/><circle cx="794.12" cy="1268.45" r="15.45" stroke-width="5.6"/><circle cx="795.24" cy="1268.91" r="15.45" stroke-width="5.6"/><circle cx="796.36" cy="1269.38" r="15.45" stroke-width="5.6"/><circle cx="797.48" cy="1269.84" r="15.45" stroke-width="5.6"/><circle cx="798.6" cy="1270.3" r="15.45" stroke-width="5.6"/><circle cx="799.72" cy="1270.75" r="15.45" stroke-width="5.6"/><circle cx="800.84" cy="1271.21" r="15.45" stroke-width="5.6"/><circle cx="801.97" cy="1271.66" r="15.45" stroke-width="5.6"/><circle cx="803.09" cy="1272.11" r="15.45" stroke-width="5.6"/><circle cx="804.21" cy="1272.56" r="15.45" stroke-width="5.6"/><circle cx="805.33" cy="1273.01" r="15.45" stroke-width="5.6"/><circle cx="806.45" cy="1273.46" r="15.45" stroke-width="5.6"/><circle cx="807.57" cy="1273.91" r="15.45" stroke-width="5.6"/><circle cx="808.69" cy="1274.35" r="15.45" stroke-width="5.6"/><circle cx="809.81" cy="1274.79" r="15.45" stroke-width="5.6"/><circle cx="810.93" cy="1275.23" r="15.45" stroke-width="5.6"/><circle cx="812.05" cy="1275.67" r="15.45" stroke-width="5.6"/><circle cx="813.17" cy="1276.11" r="15.45" stroke-width="5.6"/><circle cx="814.29" cy="1276.55" r="15.45" stroke-width="5.6"/><circle cx="815.41" cy="1276.98" r="15.45" stroke-width="5.6"/><circle cx="816.54" cy="1277.42" r="15.45" stroke-width="5.6"/><circle cx="817.66" cy="1277.85" r="15.45" stroke-width="5.6"/><circle cx="818.78" cy="1278.28" r="15.45" stroke-width="5.6"/><circle cx="819.9" cy="1278.71" r="15.45" stroke-width="5.6"/><circle cx="821.02" cy="1279.13" r="15.45" stroke-width="5.6"/><circle cx="822.14" cy="1279.56" r="15.45" stroke-width="5.6"/><circle cx="823.26" cy="1279.98" r="15.45" stroke-width="5.6"/><circle cx="824.38" cy="1280.4" r="15.45" stroke-width="5.6"/><circle cx="825.5" cy="1280.83" r="15.45" stroke-width="5.6"/><circle cx="826.62" cy="1281.25" r="15.45" stroke-width="5.6"/><circle cx="827.74" cy="1281.66" r="15.45" stroke-width="5.6"/><circle cx="828.86" cy="1282.08" r="15.45" stroke-width="5.6"/><circle cx="829.98" cy="1282.5" r="15.45" stroke-width="5.6"/><circle cx="831.11" cy="1282.91" r="15.45" stroke-width="5.6"/><circle cx="832.23" cy="1283.32" r="15.45" stroke-width="5.6"/><circle cx="833.35" cy="1283.73" r="15.45" stroke-width="5.6"/><circle cx="834.47" cy="1284.14" r="15.45" stroke-width="5.6"/><circle cx="835.59" cy="1284.55" r="15.45" stroke-width="5.6"/><circle cx="836.71" cy="1284.96" r="15.45" stroke-width="5.6"/><circle cx="837.83" cy="1285.36" r="15.45" stroke-width="5.6"/><circle cx="838.95" cy="1285.77" r="15.45" stroke-width="5.6"/><circle cx="840.07" cy="1286.17" r="15.45" stroke-width="5.6"/><circle cx="841.19" cy="1286.57" r="15.45" stroke-width="5.6"/><circle cx="842.31" cy="1286.97" r="15.45" stroke-width="5.6"/><circle cx="843.43" cy="1287.37" r="15.45" stroke-width="5.6"/><circle cx="844.55" cy="1287.77" r="15.45" stroke-width="5.6"/><circle cx="845.68" cy="1288.16" r="15.45" stroke-width="5.6"/><circle cx="846.8" cy="1288.56" r="15.45" stroke-width="5.6"/><circle cx="847.92" cy="1288.95" r="15.45" stroke-width="5.6"/><circle cx="849.04" cy="1289.34" r="15.45" stroke-width="5.6"/><circle cx="850.16" cy="1289.73" r="15.45" stroke-width="5.6"/><circle cx="851.28" cy="1290.12" r="15.45" stroke-width="5.6"/><circle cx="852.4" cy="1290.51" r="15.45" stroke-width="5.6"/><circle cx="853.52" cy="1290.9" r="15.45" stroke-width="5.6"/><circle cx="854.64" cy="1291.28" r="15.45" stroke-width="5.6"/><circle cx="855.76" cy="1291.67" r="15.45" stroke-width="5.6"/><circle cx="856.88" cy="1292.05" r="15.45" stroke-width="5.6"/><circle cx="858" cy="1292.43" r="15.45" stroke-width="5.6"/><circle cx="859.12" cy="1292.81" r="15.45" stroke-width="5.6"/><circle cx="860.25" cy="1293.19" r="15.45" stroke-width="5.6"/><circle cx="861.37" cy="1293.57" r="15.45" stroke-width="5.6"/><circle cx="862.49" cy="1293.94" r="15.45" stroke-width="5.6"/><circle cx="863.61" cy="1294.32" r="15.45" stroke-width="5.6"/><circle cx="864.73" cy="1294.69" r="15.45" stroke-width="5.6"/><circle cx="865.85" cy="1295.06" r="15.45" stroke-width="5.6"/><circle cx="866.97" cy="1295.44" r="15.45" stroke-width="5.6"/><circle cx="868.09" cy="1295.81" r="15.45" stroke-width="5.6"/><circle cx="869.21" cy="1296.18" r="15.45" stroke-width="5.6"/><circle cx="870.33" cy="1296.54" r="15.45" stroke-width="5.6"/><circle cx="871.45" cy="1296.91" r="15.45" stroke-width="5.6"/><circle cx="872.57" cy="1297.28" r="15.45" stroke-width="5.6"/><circle cx="873.69" cy="1297.64" r="15.45" stroke-width="5.6"/><circle cx="874.82" cy="1298" r="15.45" stroke-width="5.6"/><circle cx="875.94" cy="1298.37" r="15.45" stroke-width="5.6"/><circle cx="877.06" cy="1298.73" r="15.45" stroke-width="5.6"/><circle cx="878.18" cy="1299.09" r="15.45" stroke-width="5.6"/><circle cx="879.3" cy="1299.44" r="15.45" stroke-width="5.6"/><circle cx="880.42" cy="1299.8" r="15.45" stroke-width="5.6"/><circle cx="881.54" cy="1300.16" r="15.45" stroke-width="5.6"/><circle cx="882.66" cy="1300.51" r="15.45" stroke-width="5.6"/><circle cx="883.78" cy="1300.87" r="15.45" stroke-width="5.6"/><circle cx="884.9" cy="1301.22" r="15.45" stroke-width="5.6"/><circle cx="886.02" cy="1301.57" r="15.45" stroke-width="5.6"/><circle cx="887.14" cy="1301.92" r="15.45" stroke-width="5.6"/><circle cx="888.26" cy="1302.27" r="15.45" stroke-width="5.6"/><circle cx="889.39" cy="1302.62" r="15.45" stroke-width="5.6"/><circle cx="890.51" cy="1302.97" r="15.45" stroke-width="5.6"/><circle cx="891.63" cy="1303.31" r="15.45" stroke-width="5.6"/><circle cx="892.75" cy="1303.66" r="15.45" stroke-width="5.6"/><circle cx="893.87" cy="1304" r="15.45" stroke-width="5.6"/><circle cx="894.99" cy="1304.34" r="15.45" stroke-width="5.6"/><circle cx="896.11" cy="1304.69" r="15.45" stroke-width="5.6"/><circle cx="897.23" cy="1305.03" r="15.45" stroke-width="5.6"/><circle cx="898.35" cy="1305.37" r="15.45" stroke-width="5.6"/><circle cx="899.47" cy="1305.71" r="15.45" stroke-width="5.6"/><circle cx="900.59" cy="1306.04" r="15.45" stroke-width="5.6"/><circle cx="901.71" cy="1306.38" r="15.45" stroke-width="5.6"/><circle cx="902.83" cy="1306.71" r="15.45" stroke-width="5.6"/><circle cx="903.96" cy="1307.05" r="15.45" stroke-width="5.6"/><circle cx="905.08" cy="1307.38" r="15.45" stroke-width="5.6"/><circle cx="906.2" cy="1307.71" r="15.45" stroke-width="5.6"/><circle cx="907.32" cy="1308.05" r="15.45" stroke-width="5.6"/><circle cx="908.44" cy="1308.38" r="15.45" stroke-width="5.6"/><circle cx="909.56" cy="1308.71" r="15.45" stroke-width="5.6"/><circle cx="910.68" cy="1309.03" r="15.45" stroke-width="5.6"/><circle cx="911.8" cy="1309.36" r="15.45" stroke-width="5.6"/><circle cx="912.92" cy="1309.69" r="15.45" stroke-width="5.6"/><circle cx="914.04" cy="1310.01" r="15.45" stroke-width="5.6"/><circle cx="915.16" cy="1310.34" r="15.45" stroke-width="5.6"/><circle cx="916.28" cy="1310.66" r="15.45" stroke-width="5.6"/><circle cx="917.4" cy="1310.98" r="15.45" stroke-width="5.6"/><circle cx="918.53" cy="1311.3" r="15.45" stroke-width="5.6"/><circle cx="919.65" cy="1311.62" r="15.45" stroke-width="5.6"/><circle cx="920.77" cy="1311.94" r="15.45" stroke-width="5.6"/><circle cx="921.89" cy="1312.26" r="15.45" stroke-width="5.6"/><circle cx="923.01" cy="1312.58" r="15.45" stroke-width="5.6"/><circle cx="924.13" cy="1312.89" r="15.45" stroke-width="5.6"/><circle cx="925.25" cy="1313.21" r="15.45" stroke-width="5.6"/><circle cx="926.37" cy="1313.52" r="15.45" stroke-width="5.6"/><circle cx="927.49" cy="1313.84" r="15.45" stroke-width="5.6"/><circle cx="928.61" cy="1314.15" r="15.45" stroke-width="5.6"/><circle cx="929.73" cy="1314.46" r="15.45" stroke-width="5.6"/><circle cx="930.85" cy="1314.77" r="15.45" stroke-width="5.6"/><circle cx="931.97" cy="1315.08" r="15.45" stroke-width="5.6"/><circle cx="933.09" cy="1315.39" r="15.45" stroke-width="5.6"/><circle cx="934.22" cy="1315.7" r="15.45" stroke-width="5.6"/><circle cx="935.34" cy="1316.01" r="15.45" stroke-width="5.6"/><circle cx="936.46" cy="1316.31" r="15.45" stroke-width="5.6"/><circle cx="937.58" cy="1316.62" r="15.45" stroke-width="5.6"/><circle cx="938.7" cy="1316.92" r="15.45" stroke-width="5.6"/><circle cx="939.82" cy="1317.23" r="15.45" stroke-width="5.6"/><circle cx="940.94" cy="1317.53" r="15.45" stroke-width="5.6"/><circle cx="942.06" cy="1317.83" r="15.45" stroke-width="5.6"/><circle cx="943.18" cy="1318.13" r="15.45" stroke-width="5.6"/><circle cx="944.3" cy="1318.43" r="15.45" stroke-width="5.6"/><circle cx="945.42" cy="1318.73" r="15.45" stroke-width="5.6"/><circle cx="946.54" cy="1319.03" r="15.45" stroke-width="5.6"/><circle cx="947.66" cy="1319.33" r="15.45" stroke-width="5.6"/><circle cx="948.79" cy="1319.62" r="15.45" stroke-width="5.6"/><circle cx="949.91" cy="1319.92" r="15.45" stroke-width="5.6"/><circle cx="951.03" cy="1320.21" r="15.45" stroke-width="5.6"/><circle cx="952.15" cy="1320.51" r="15.45" stroke-width="5.6"/><circle cx="953.27" cy="1320.8" r="15.45" stroke-width="5.6"/><circle cx="954.39" cy="1321.09" r="15.45" stroke-width="5.6"/><circle cx="955.51" cy="1321.38" r="15.45" stroke-width="5.6"/><circle cx="956.63" cy="1321.67" r="15.45" stroke-width="5.6"/><circle cx="957.75" cy="1321.96" r="15.45" stroke-width="5.6"/><circle cx="958.87" cy="1322.25" r="15.45" stroke-width="5.6"/><circle cx="959.99" cy="1322.54" r="15.45" stroke-width="5.6"/><circle cx="961.11" cy="1322.83" r="15.45" stroke-width="5.6"/><circle cx="962.23" cy="1323.11" r="15.45" stroke-width="5.6"/><circle cx="963.36" cy="1323.4" r="15.45" stroke-width="5.6"/><circle cx="964.48" cy="1323.68" r="15.45" stroke-width="5.6"/><circle cx="965.6" cy="1323.97" r="15.45" stroke-width="5.6"/><circle cx="966.72" cy="1324.25" r="15.45" stroke-width="5.6"/><circle cx="967.84" cy="1324.53" r="15.45" stroke-width="5.6"/><circle cx="968.96" cy="1324.81" r="15.45" stroke-width="5.6"/><circle cx="970.08" cy="1325.09" r="15.45" stroke-width="5.6"/><circle cx="971.2" cy="1325.37" r="15.45" stroke-width="5.6"/><circle cx="972.32" cy="1325.65" r="15.45" stroke-width="5.6"/><circle cx="973.44" cy="1325.93" r="15.45" stroke-width="5.6"/><circle cx="974.56" cy="1326.21" r="15.45" stroke-width="5.6"/><circle cx="975.68" cy="1326.48" r="15.45" stroke-width="5.6"/><circle cx="976.8" cy="1326.76" r="15.45" stroke-width="5.6"/><circle cx="977.93" cy="1327.04" r="15.45" stroke-width="5.6"/><circle cx="979.05" cy="1327.31" r="15.45" stroke-width="5.6"/><circle cx="980.17" cy="1327.58" r="15.45" stroke-width="5.6"/><circle cx="981.29" cy="1327.86" r="15.45" stroke-width="5.6"/><circle cx="982.41" cy="1328.13" r="15.45" stroke-width="5.6"/><circle cx="983.53" cy="1328.4" r="15.45" stroke-width="5.6"/><circle cx="984.65" cy="1328.67" r="15.45" stroke-width="5.6"/><circle cx="985.77" cy="1328.94" r="15.45" stroke-width="5.6"/><circle cx="986.89" cy="1329.21" r="15.45" stroke-width="5.6"/><circle cx="988.01" cy="1329.48" r="15.45" stroke-width="5.6"/><circle cx="989.13" cy="1329.74" r="15.45" stroke-width="5.6"/><circle cx="990.25" cy="1330.01" r="15.45" stroke-width="5.6"/><circle cx="991.37" cy="1330.28" r="15.45" stroke-width="5.6"/><circle cx="992.5" cy="1330.54" r="15.45" stroke-width="5.6"/><circle cx="993.62" cy="1330.81" r="15.45" stroke-width="5.6"/><circle cx="994.74" cy="1331.07" r="15.45" stroke-width="5.6"/><circle cx="995.86" cy="1331.33" r="15.45" stroke-width="5.6"/><circle cx="996.98" cy="1331.6" r="15.45" stroke-width="5.6"/><circle cx="998.1" cy="1331.86" r="15.45" stroke-width="5.6"/><circle cx="999.22" cy="1332.12" r="15.45" stroke-width="5.6"/><circle cx="1000.34" cy="1332.38" r="15.45" stroke-width="5.6"/><circle cx="1001.46" cy="1332.64" r="15.45" stroke-width="5.6"/><circle cx="1002.58" cy="1332.9" r="15.45" stroke-width="5.6"/><circle cx="1003.7" cy="1333.16" r="15.45" stroke-width="5.6"/><circle cx="1004.82" cy="1333.41" r="15.45" stroke-width="5.6"/><circle cx="1005.94" cy="1333.67" r="15.45" stroke-width="5.6"/><circle cx="1007.07" cy="1333.93" r="15.45" stroke-width="5.6"/><circle cx="1008.19" cy="1334.18" r="15.45" stroke-width="5.6"/><circle cx="1009.31" cy="1334.44" r="15.45" stroke-width="5.6"/><circle cx="1010.43" cy="1334.69" r="15.45" stroke-width="5.6"/><circle cx="1011.55" cy="1334.94" r="15.45" stroke-width="5.6"/><circle cx="1012.67" cy="1335.2" r="15.45" stroke-width="5.6"/><circle cx="1013.79" cy="1335.45" r="15.45" stroke-width="5.6"/><circle cx="1014.91" cy="1335.7" r="15.45" stroke-width="5.6"/><circle cx="1016.03" cy="1335.95" r="15.45" stroke-width="5.6"/><circle cx="1017.15" cy="1336.2" r="15.45" stroke-width="5.6"/><circle cx="1018.27" cy="1336.45" r="15.45" stroke-width="5.6"/><circle cx="1019.39" cy="1336.7" r="15.45" stroke-width="5.6"/><circle cx="1020.51" cy="1336.94" r="15.45" stroke-width="5.6"/><circle cx="1021.64" cy="1337.19" r="15.45" stroke-width="5.6"/><circle cx="1022.76" cy="1337.44" r="15.45" stroke-width="5.6"/><circle cx="1023.88" cy="1337.68" r="15.45" stroke-width="5.6"/><circle cx="1025" cy="1337.93" r="15.45" stroke-width="5.6"/><circle cx="1026.12" cy="1338.17" r="15.45" stroke-width="5.6"/><circle cx="1027.24" cy="1338.42" r="15.45" stroke-width="5.6"/><circle cx="1028.36" cy="1338.66" r="15.45" stroke-width="5.6"/><circle cx="1029.48" cy="1338.9" r="15.45" stroke-width="5.6"/><circle cx="1030.6" cy="1339.15" r="15.45" stroke-width="5.6"/><circle cx="1031.72" cy="1339.39" r="15.45" stroke-width="5.6"/><circle cx="1032.84" cy="1339.63" r="15.45" stroke-width="5.6"/><circle cx="1033.96" cy="1339.87" r="15.45" stroke-width="5.6"/><circle cx="1035.08" cy="1340.11" r="15.45" stroke-width="5.6"/><circle cx="1036.21" cy="1340.35" r="15.45" stroke-width="5.6"/><circle cx="1037.33" cy="1340.58" r="15.45" stroke-width="5.6"/><circle cx="1038.45" cy="1340.82" r="15.45" stroke-width="5.6"/><circle cx="1039.57" cy="1341.06" r="15.45" stroke-width="5.6"/><circle cx="1040.69" cy="1341.3" r="15.45" stroke-width="5.6"/><circle cx="1041.81" cy="1341.53" r="15.45" stroke-width="5.6"/><circle cx="1042.93" cy="1341.77" r="15.45" stroke-width="5.6"/><circle cx="1044.05" cy="1342" r="15.45" stroke-width="5.6"/><circle cx="1045.17" cy="1342.23" r="15.45" stroke-width="5.6"/><circle cx="1046.29" cy="1342.47" r="15.45" stroke-width="5.6"/><circle cx="1047.41" cy="1342.7" r="15.45" stroke-width="5.6"/><circle cx="1048.53" cy="1342.93" r="15.45" stroke-width="5.6"/><circle cx="1049.65" cy="1343.16" r="15.45" stroke-width="5.6"/><circle cx="1050.78" cy="1343.4" r="15.45" stroke-width="5.6"/><circle cx="1051.9" cy="1343.63" r="15.45" stroke-width="5.6"/><circle cx="1053.02" cy="1343.86" r="15.45" stroke-width="5.6"/><circle cx="1054.14" cy="1344.08" r="15.45" stroke-width="5.6"/><circle cx="1055.26" cy="1344.31" r="15.45" stroke-width="5.6"/><circle cx="1056.38" cy="1344.54" r="15.45" stroke-width="5.6"/><circle cx="1057.5" cy="1344.77" r="15.45" stroke-width="5.6"/><circle cx="1058.62" cy="1345" r="15.45" stroke-width="5.6"/><circle cx="1059.74" cy="1345.22" r="15.45" stroke-width="5.6"/><circle cx="1060.86" cy="1345.45" r="15.45" stroke-width="5.6"/><circle cx="1061.98" cy="1345.67" r="15.45" stroke-width="5.6"/><circle cx="1063.1" cy="1345.9" r="15.45" stroke-width="5.6"/><circle cx="1064.22" cy="1346.12" r="15.45" stroke-width="5.6"/><circle cx="1065.35" cy="1346.34" r="15.45" stroke-width="5.6"/><circle cx="1066.47" cy="1346.57" r="15.45" stroke-width="5.6"/><circle cx="1067.59" cy="1346.79" r="15.45" stroke-width="5.6"/><circle cx="1068.71" cy="1347.01" r="15.45" stroke-width="5.6"/><circle cx="1069.83" cy="1347.23" r="15.45" stroke-width="5.6"/><circle cx="1070.95" cy="1347.45" r="15.45" stroke-width="5.6"/><circle cx="1072.07" cy="1347.67" r="15.45" stroke-width="5.6"/><circle cx="1073.19" cy="1347.89" r="15.45" stroke-width="5.6"/><circle cx="1074.31" cy="1348.11" r="15.45" stroke-width="5.6"/><circle cx="1075.43" cy="1348.33" r="15.45" stroke-width="5.6"/><circle cx="1076.55" cy="1348.55" r="15.45" stroke-width="5.6"/><circle cx="1077.67" cy="1348.77" r="15.45" stroke-width="5.6"/><circle cx="1078.79" cy="1348.98" r="15.45" stroke-width="5.6"/><circle cx="1079.92" cy="1349.2" r="15.45" stroke-width="5.6"/><circle cx="1081.04" cy="1349.41" r="15.45" stroke-width="5.6"/><circle cx="1082.16" cy="1349.63" r="15.45" stroke-width="5.6"/><circle cx="1083.28" cy="1349.84" r="15.45" stroke-width="5.6"/><circle cx="1084.4" cy="1350.06" r="15.45" stroke-width="5.6"/><circle cx="1085.52" cy="1350.27" r="15.45" stroke-width="5.6"/><circle cx="1086.64" cy="1350.48" r="15.45" stroke-width="5.6"/><circle cx="1087.76" cy="1350.7" r="15.45" stroke-width="5.6"/><circle cx="1088.88" cy="1350.91" r="15.45" stroke-width="5.6"/><circle cx="1090" cy="1351.12" r="15.45" stroke-width="5.6"/><circle cx="1091.12" cy="1351.33" r="15.45" stroke-width="5.6"/><circle cx="1092.24" cy="1351.54" r="15.45" stroke-width="5.6"/><circle cx="1093.36" cy="1351.75" r="15.45" stroke-width="5.6"/><circle cx="1094.48" cy="1351.96" r="15.45" stroke-width="5.6"/><circle cx="1095.61" cy="1352.17" r="15.45" stroke-width="5.6"/><circle cx="1096.73" cy="1352.38" r="15.45" stroke-width="5.6"/><circle cx="1097.85" cy="1352.59" r="15.45" stroke-width="5.6"/><circle cx="1098.97" cy="1352.79" r="15.45" stroke-width="5.6"/><circle cx="1100.09" cy="1353" r="15.45" stroke-width="5.6"/><circle cx="1101.21" cy="1353.21" r="15.45" stroke-width="5.6"/><circle cx="1102.33" cy="1353.41" r="15.45" stroke-width="5.6"/><circle cx="1103.45" cy="1353.62" r="15.45" stroke-width="5.6"/><circle cx="1104.57" cy="1353.82" r="15.45" stroke-width="5.6"/><circle cx="1105.69" cy="1354.03" r="15.45" stroke-width="5.6"/><circle cx="1106.81" cy="1354.23" r="15.45" stroke-width="5.6"/><circle cx="1107.93" cy="1354.43" r="15.45" stroke-width="5.6"/><circle cx="1109.05" cy="1354.64" r="15.45" stroke-width="5.6"/><circle cx="1110.18" cy="1354.84" r="15.45" stroke-width="5.6"/><circle cx="1111.3" cy="1355.04" r="15.45" stroke-width="5.6"/><circle cx="1112.42" cy="1355.24" r="15.45" stroke-width="5.6"/><circle cx="1113.54" cy="1355.44" r="15.45" stroke-width="5.6"/><circle cx="1114.66" cy="1355.64" r="15.45" stroke-width="5.6"/><circle cx="1115.78" cy="1355.84" r="15.45" stroke-width="5.6"/><circle cx="1116.9" cy="1356.04" r="15.45" stroke-width="5.6"/><circle cx="1118.02" cy="1356.24" r="15.45" stroke-width="5.6"/><circle cx="1119.14" cy="1356.44" r="15.45" stroke-width="5.6"/><circle cx="1120.26" cy="1356.64" r="15.45" stroke-width="5.6"/><circle cx="1121.38" cy="1356.84" r="15.45" stroke-width="5.6"/><circle cx="1122.5" cy="1357.03" r="15.45" stroke-width="5.6"/><circle cx="1123.62" cy="1357.23" r="15.45" stroke-width="5.6"/><circle cx="1124.75" cy="1357.43" r="15.45" stroke-width="5.6"/><circle cx="1125.87" cy="1357.62" r="15.45" stroke-width="5.6"/><circle cx="1126.99" cy="1357.82" r="15.45" stroke-width="5.6"/><circle cx="1128.11" cy="1358.01" r="15.45" stroke-width="5.6"/><circle cx="1129.23" cy="1358.21" r="15.45" stroke-width="5.6"/><circle cx="1130.35" cy="1358.4" r="15.45" stroke-width="5.6"/><circle cx="1131.47" cy="1358.59" r="15.45" stroke-width="5.6"/><circle cx="1132.59" cy="1358.79" r="15.45" stroke-width="5.6"/><circle cx="1133.71" cy="1358.98" r="15.45" stroke-width="5.6"/><circle cx="1134.83" cy="1359.17" r="15.45" stroke-width="5.6"/><circle cx="1135.95" cy="1359.36" r="15.45" stroke-width="5.6"/><circle cx="1137.07" cy="1359.56" r="15.45" stroke-width="5.6"/><circle cx="1138.19" cy="1359.75" r="15.45" stroke-width="5.6"/><circle cx="1139.32" cy="1359.94" r="15.45" stroke-width="5.6"/><circle cx="1140.44" cy="1360.13" r="15.45" stroke-width="5.6"/><circle cx="1141.56" cy="1360.32" r="15.45" stroke-width="5.6"/><circle cx="1142.68" cy="1360.5" r="15.45" stroke-width="5.6"/><circle cx="1143.8" cy="1360.69" r="15.45" stroke-width="5.6"/><circle cx="1144.92" cy="1360.88" r="15.45" stroke-width="5.6"/><circle cx="1146.04" cy="1361.07" r="15.45" stroke-width="5.6"/><circle cx="1147.16" cy="1361.26" r="15.45" stroke-width="5.6"/><circle cx="1148.28" cy="1361.44" r="15.45" stroke-width="5.6"/><circle cx="1149.4" cy="1361.63" r="15.45" stroke-width="5.6"/><circle cx="1150.52" cy="1361.82" r="15.45" stroke-width="5.6"/><circle cx="1151.64" cy="1362" r="15.45" stroke-width="5.6"/><circle cx="1152.76" cy="1362.19" r="15.45" stroke-width="5.6"/><circle cx="1153.89" cy="1362.37" r="15.45" stroke-width="5.6"/><circle cx="1155.01" cy="1362.56" r="15.45" stroke-width="5.6"/><circle cx="1156.13" cy="1362.74" r="15.45" stroke-width="5.6"/><circle cx="1157.25" cy="1362.92" r="15.45" stroke-width="5.6"/><circle cx="1158.37" cy="1363.11" r="15.45" stroke-width="5.6"/><circle cx="1159.49" cy="1363.29" r="15.45" stroke-width="5.6"/><circle cx="1160.61" cy="1363.47" r="15.45" stroke-width="5.6"/><circle cx="1161.73" cy="1363.65" r="15.45" stroke-width="5.6"/><circle cx="1162.85" cy="1363.83" r="15.45" stroke-width="5.6"/><circle cx="1163.97" cy="1364.01" r="15.45" stroke-width="5.6"/><circle cx="1165.09" cy="1364.19" r="15.45" stroke-width="5.6"/><circle cx="1166.21" cy="1364.37" r="15.45" stroke-width="5.6"/><circle cx="1167.33" cy="1364.55" r="15.45" stroke-width="5.6"/><circle cx="1168.46" cy="1364.73" r="15.45" stroke-width="5.6"/><circle cx="1169.58" cy="1364.91" r="15.45" stroke-width="5.6"/><circle cx="1170.7" cy="1365.09" r="15.45" stroke-width="5.6"/><circle cx="1171.82" cy="1365.27" r="15.45" stroke-width="5.6"/><circle cx="1172.94" cy="1365.45" r="15.45" stroke-width="5.6"/><circle cx="1174.06" cy="1365.62" r="15.45" stroke-width="5.6"/><circle cx="1175.18" cy="1365.8" r="15.45" stroke-width="5.6"/><circle cx="1176.3" cy="1365.98" r="15.45" stroke-width="5.6"/><circle cx="1177.42" cy="1366.15" r="15.45" stroke-width="5.6"/><circle cx="1178.54" cy="1366.33" r="15.45" stroke-width="5.6"/><circle cx="1179.66" cy="1366.5" r="15.45" stroke-width="5.6"/><circle cx="1180.78" cy="1366.68" r="15.45" stroke-width="5.6"/><circle cx="1181.9" cy="1366.85" r="15.45" stroke-width="5.6"/><circle cx="1183.03" cy="1367.03" r="15.45" stroke-width="5.6"/><circle cx="1184.15" cy="1367.2" r="15.45" stroke-width="5.6"/><circle cx="1185.27" cy="1367.38" r="15.45" stroke-width="5.6"/><circle cx="1186.39" cy="1367.55" r="15.45" stroke-width="5.6"/><circle cx="1187.51" cy="1367.72" r="15.45" stroke-width="5.6"/><circle cx="1188.63" cy="1367.89" r="15.45" stroke-width="5.6"/><circle cx="1189.75" cy="1368.06" r="15.45" stroke-width="5.6"/><circle cx="1190.87" cy="1368.24" r="15.45" stroke-width="5.6"/><circle cx="1191.99" cy="1368.41" r="15.45" stroke-width="5.6"/><circle cx="1193.11" cy="1368.58" r="15.45" stroke-width="5.6"/><circle cx="1194.23" cy="1368.75" r="15.45" stroke-width="5.6"/><circle cx="1195.35" cy="1368.92" r="15.45" stroke-width="5.6"/><circle cx="1196.47" cy="1369.09" r="15.45" stroke-width="5.6"/><circle cx="1197.6" cy="1369.26" r="15.45" stroke-width="5.6"/><circle cx="1198.72" cy="1369.43" r="15.45" stroke-width="5.6"/><circle cx="1199.84" cy="1369.59" r="15.45" stroke-width="5.6"/><circle cx="1200.96" cy="1369.76" r="15.45" stroke-width="5.6"/><circle cx="1202.08" cy="1369.93" r="15.45" stroke-width="5.6"/><circle cx="1203.2" cy="1370.1" r="15.45" stroke-width="5.6"/><circle cx="1204.32" cy="1370.26" r="15.45" stroke-width="5.6"/><circle cx="1205.44" cy="1370.43" r="15.45" stroke-width="5.6"/><circle cx="1206.56" cy="1370.6" r="15.45" stroke-width="5.6"/><circle cx="1207.68" cy="1370.76" r="15.45" stroke-width="5.6"/><circle cx="1208.8" cy="1370.93" r="15.45" stroke-width="5.6"/><circle cx="1209.92" cy="1371.09" r="15.45" stroke-width="5.6"/><circle cx="1211.04" cy="1371.26" r="15.45" stroke-width="5.6"/><circle cx="1212.17" cy="1371.42" r="15.45" stroke-width="5.6"/><circle cx="1213.29" cy="1371.59" r="15.45" stroke-width="5.6"/><circle cx="1214.41" cy="1371.75" r="15.45" stroke-width="5.6"/><circle cx="1215.53" cy="1371.92" r="15.45" stroke-width="5.6"/><circle cx="1216.65" cy="1372.08" r="15.45" stroke-width="5.6"/><circle cx="1217.77" cy="1372.24" r="15.45" stroke-width="5.6"/><circle cx="1218.89" cy="1372.4" r="15.45" stroke-width="5.6"/><circle cx="1220.01" cy="1372.57" r="15.45" stroke-width="5.6"/><circle cx="1221.13" cy="1372.73" r="15.45" stroke-width="5.6"/><circle cx="1222.25" cy="1372.89" r="15.45" stroke-width="5.6"/><circle cx="1223.37" cy="1373.05" r="15.45" stroke-width="5.6"/><circle cx="1224.49" cy="1373.21" r="15.45" stroke-width="5.6"/><circle cx="1225.61" cy="1373.37" r="15.45" stroke-width="5.6"/><circle cx="1226.74" cy="1373.53" r="15.45" stroke-width="5.6"/><circle cx="1227.86" cy="1373.69" r="15.45" stroke-width="5.6"/><circle cx="1228.98" cy="1373.85" r="15.45" stroke-width="5.6"/><circle cx="1230.1" cy="1374.01" r="15.45" stroke-width="5.6"/><circle cx="1231.22" cy="1374.17" r="15.45" stroke-width="5.6"/><circle cx="1232.34" cy="1374.32" r="15.45" stroke-width="5.6"/><circle cx="1233.46" cy="1374.48" r="15.45" stroke-width="5.6"/><circle cx="1234.58" cy="1374.64" r="15.45" stroke-width="5.6"/><circle cx="1235.7" cy="1374.8" r="15.45" stroke-width="5.6"/><circle cx="1236.82" cy="1374.95" r="15.45" stroke-width="5.6"/><circle cx="1237.94" cy="1375.11" r="15.45" stroke-width="5.6"/><circle cx="1239.06" cy="1375.27" r="15.45" stroke-width="5.6"/><circle cx="1240.18" cy="1375.42" r="15.45" stroke-width="5.6"/><circle cx="1241.31" cy="1375.58" r="15.45" stroke-width="5.6"/><circle cx="1242.43" cy="1375.73" r="15.45" stroke-width="5.6"/><circle cx="1243.55" cy="1375.89" r="15.45" stroke-width="5.6"/><circle cx="1244.67" cy="1376.04" r="15.45" stroke-width="5.6"/><circle cx="1245.79" cy="1376.2" r="15.45" stroke-width="5.6"/><circle cx="1246.91" cy="1376.35" r="15.45" stroke-width="5.6"/><circle cx="1248.03" cy="1376.51" r="15.45" stroke-width="5.6"/><circle cx="1249.15" cy="1376.66" r="15.45" stroke-width="5.6"/><circle cx="1250.27" cy="1376.81" r="15.45" stroke-width="5.6"/><circle cx="1251.39" cy="1376.96" r="15.45" stroke-width="5.6"/><circle cx="1252.51" cy="1377.12" r="15.45" stroke-width="5.6"/><circle cx="1253.63" cy="1377.27" r="15.45" stroke-width="5.6"/><circle cx="1254.75" cy="1377.42" r="15.45" stroke-width="5.6"/><circle cx="1255.87" cy="1377.57" r="15.45" stroke-width="5.6"/><circle cx="1257" cy="1377.72" r="15.45" stroke-width="5.6"/><circle cx="1258.12" cy="1377.87" r="15.45" stroke-width="5.6"/><circle cx="1259.24" cy="1378.03" r="15.45" stroke-width="5.6"/><circle cx="1260.36" cy="1378.18" r="15.45" stroke-width="5.6"/><circle cx="1261.48" cy="1378.33" r="15.45" stroke-width="5.6"/><circle cx="1262.6" cy="1378.47" r="15.45" stroke-width="5.6"/><circle cx="1263.72" cy="1378.62" r="15.45" stroke-width="5.6"/><circle cx="1264.84" cy="1378.77" r="15.45" stroke-width="5.6"/><circle cx="1265.96" cy="1378.92" r="15.45" stroke-width="5.6"/><circle cx="1267.08" cy="1379.07" r="15.45" stroke-width="5.6"/><circle cx="1268.2" cy="1379.22" r="15.45" stroke-width="5.6"/><circle cx="1269.32" cy="1379.37" r="15.45" stroke-width="5.6"/><circle cx="1270.44" cy="1379.51" r="15.45" stroke-width="5.6"/><circle cx="1271.57" cy="1379.66" r="15.45" stroke-width="5.6"/><circle cx="1272.69" cy="1379.81" r="15.45" stroke-width="5.6"/><circle cx="1273.81" cy="1379.95" r="15.45" stroke-width="5.6"/><circle cx="1274.93" cy="1380.1" r="15.45" stroke-width="5.6"/><circle cx="1276.05" cy="1380.25" r="15.45" stroke-width="5.6"/><circle cx="1277.17" cy="1380.39" r="15.45" stroke-width="5.6"/><circle cx="1278.29" cy="1380.54" r="15.45" stroke-width="5.6"/><circle cx="1279.41" cy="1380.68" r="15.45" stroke-width="5.6"/><circle cx="1280.53" cy="1380.83" r="15.45" stroke-width="5.6"/><circle cx="1281.65" cy="1380.97" r="15.45" stroke-width="5.6"/><circle cx="1282.77" cy="1381.12" r="15.45" stroke-width="5.6"/><circle cx="1283.89" cy="1381.26" r="15.45" stroke-width="5.6"/><circle cx="1285.01" cy="1381.4" r="15.45" stroke-width="5.6"/><circle cx="1286.14" cy="1381.55" r="15.45" stroke-width="5.6"/><circle cx="1287.26" cy="1381.69" r="15.45" stroke-width="5.6"/><circle cx="1288.38" cy="1381.83" r="15.45" stroke-width="5.6"/><circle cx="1289.5" cy="1381.97" r="15.45" stroke-width="5.6"/><circle cx="1290.62" cy="1382.12" r="15.45" stroke-width="5.6"/><circle cx="1291.74" cy="1382.26" r="15.45" stroke-width="5.6"/><circle cx="1292.86" cy="1382.4" r="15.45" stroke-width="5.6"/><circle cx="1293.98" cy="1382.54" r="15.45" stroke-width="5.6"/><circle cx="1295.1" cy="1382.68" r="15.45" stroke-width="5.6"/><circle cx="1296.22" cy="1382.82" r="15.45" stroke-width="5.6"/><circle cx="1297.34" cy="1382.96" r="15.45" stroke-width="5.6"/><circle cx="1298.46" cy="1383.1" r="15.45" stroke-width="5.6"/><circle cx="1299.58" cy="1383.24" r="15.45" stroke-width="5.6"/><circle cx="1300.71" cy="1383.38" r="15.45" stroke-width="5.6"/><circle cx="1301.83" cy="1383.52" r="15.45" stroke-width="5.6"/><circle cx="1302.95" cy="1383.66" r="15.45" stroke-width="5.6"/><circle cx="1304.07" cy="1383.8" r="15.45" stroke-width="5.6"/><circle cx="1305.19" cy="1383.94" r="15.45" stroke-width="5.6"/><circle cx="1306.31" cy="1384.08" r="15.45" stroke-width="5.6"/><circle cx="1307.43" cy="1384.22" r="15.45" stroke-width="5.6"/><circle cx="1308.55" cy="1384.35" r="15.45" stroke-width="5.6"/><circle cx="1309.67" cy="1384.49" r="15.45" stroke-width="5.6"/><circle cx="1310.79" cy="1384.63" r="15.45" stroke-width="5.6"/><circle cx="1311.91" cy="1384.77" r="15.45" stroke-width="5.6"/><circle cx="1313.03" cy="1384.9" r="15.45" stroke-width="5.6"/><circle cx="1314.15" cy="1385.04" r="15.45" stroke-width="5.6"/><circle cx="1315.28" cy="1385.17" r="15.45" stroke-width="5.6"/><circle cx="1316.4" cy="1385.31" r="15.45" stroke-width="5.6"/><circle cx="1317.52" cy="1385.45" r="15.45" stroke-width="5.6"/><circle cx="1318.64" cy="1385.58" r="15.45" stroke-width="5.6"/><circle cx="1319.76" cy="1385.72" r="15.45" stroke-width="5.6"/><circle cx="1320.88" cy="1385.85" r="15.45" stroke-width="5.6"/><circle cx="1322" cy="1385.99" r="15.45" stroke-width="5.6"/></g><text class="tk" transform="translate(145.8 1463.6) scale(0.81 1)" x="-15.36" y="0" font-size="51.2" style="letter-spacing:8.42px">2100</text><text class="tk" transform="translate(429.63 1463.6) scale(0.81 1)" x="-15.36" y="0" font-size="51.2" style="letter-spacing:8.42px">2200</text><text class="tk" transform="translate(713.47 1463.6) scale(0.81 1)" x="-15.36" y="0" font-size="51.2" style="letter-spacing:8.42px">2300</text><text class="tk" transform="translate(997.3 1463.6) scale(0.81 1)" x="-15.36" y="0" font-size="51.2" style="letter-spacing:8.42px">2400</text><text class="tk" transform="translate(1281.13 1463.6) scale(0.81 1)" x="-15.36" y="0" font-size="51.2" style="letter-spacing:8.42px">2500</text><text class="tk" transform="translate(1564.97 1463.6) scale(0.81 1)" x="-15.36" y="0" font-size="51.2" style="letter-spacing:8.42px">2600</text><text class="tk" transform="translate(1848.8 1463.6) scale(0.81 1)" x="-15.36" y="0" font-size="51.2" style="letter-spacing:8.42px">2700</text><text class="tk" transform="translate(151.1 1409.3) scale(0.81 1)" x="-15.36" y="0" font-size="51.2" style="letter-spacing:8.42px">0</text><text class="tk" transform="translate(108.5 1274.97) scale(0.81 1)" x="-15.36" y="0" font-size="51.2" style="letter-spacing:8.42px">0.1</text><text class="tk" transform="translate(108.5 1140.34) scale(0.81 1)" x="-15.36" y="0" font-size="51.2" style="letter-spacing:8.42px">0.2</text><text class="tk" transform="translate(108.5 1005.71) scale(0.81 1)" x="-15.36" y="0" font-size="51.2" style="letter-spacing:8.42px">0.3</text><text class="tk" transform="translate(108.5 871.08) scale(0.81 1)" x="-15.36" y="0" font-size="51.2" style="letter-spacing:8.42px">0.4</text><text class="tk" transform="translate(108.5 736.45) scale(0.81 1)" x="-15.36" y="0" font-size="51.2" style="letter-spacing:8.42px">0.5</text><text class="tk" transform="translate(108.5 601.82) scale(0.81 1)" x="-15.36" y="0" font-size="51.2" style="letter-spacing:8.42px">0.6</text><text class="tk" transform="translate(108.5 467.19) scale(0.81 1)" x="-15.36" y="0" font-size="51.2" style="letter-spacing:8.42px">0.7</text><text class="tk" transform="translate(108.5 332.56) scale(0.81 1)" x="-15.36" y="0" font-size="51.2" style="letter-spacing:8.42px">0.8</text><text class="tk" transform="translate(108.5 197.93) scale(0.81 1)" x="-15.36" y="0" font-size="51.2" style="letter-spacing:8.42px">0.9</text><text class="tk" transform="translate(151.6 63) scale(0.81 1)" x="-15.36" y="0" font-size="51.2" style="letter-spacing:8.42px">1</text><text class="tk" transform="translate(913.9 1544.1) scale(1.03 1)" x="-15.39" y="0" font-size="51.3" style="letter-spacing:2.72px">Total costs</text><text class="tk" transform="translate(61.6 779.6) rotate(-90) scale(1.03 1)" x="-15.39" y="0" font-size="51.3" style="letter-spacing:2.72px">ACDS</text><rect x="1346" y="739.7" width="493.5" height="597.3" fill="#fff" stroke="#262626" stroke-width="3.4"/><use href="#ast" x="1444" y="779.35" fill="none" stroke="#0072BD" stroke-width="4.8" stroke-miterlimit="10" shape-rendering="crispEdges"/><text class="lg" x="1532" y="797.4">NSGAII</text><use href="#plus" x="1444" y="843.9" fill="none" stroke="#D95319" stroke-width="4.8" stroke-miterlimit="10" shape-rendering="crispEdges"/><text class="lg" x="1532" y="861.84">MOAO</text><use href="#rt" x="1444" y="908.95" fill="none" stroke="#EDB120" stroke-width="4.8" stroke-miterlimit="10" shape-rendering="crispEdges"/><text class="lg" x="1532" y="926.28">MOHBA</text><use href="#hex" x="1444" y="973.45" fill="none" stroke="#7E2F8E" stroke-width="4.8" stroke-miterlimit="10" shape-rendering="crispEdges"/><text class="lg" x="1532" y="990.72">MOWOA</text><use href="#sq" x="1444" y="1038" fill="none" stroke="#77AC30" stroke-width="4.8" stroke-miterlimit="10" shape-rendering="crispEdges"/><text class="lg" x="1532" y="1055.16">MOGWO</text><use href="#pent" x="1444" y="1101.9" fill="none" stroke="#4DBEEE" stroke-width="4.8" stroke-miterlimit="10" shape-rendering="crispEdges"/><text class="lg" x="1532" y="1119.6">MOFECO</text><use href="#up" x="1444" y="1167.3" fill="none" stroke="#A2142F" stroke-width="4.8" stroke-miterlimit="10" shape-rendering="crispEdges"/><text class="lg" x="1532" y="1184.04">LSMOFECO</text><use href="#dn" x="1444" y="1231.2" fill="none" stroke="#0000FF" stroke-width="4.8" stroke-miterlimit="10" shape-rendering="crispEdges"/><text class="lg" x="1532" y="1248.48">MOFECO-SS</text><circle cx="1442" cy="1294.9" r="15.45" fill="none" stroke="#FF0000" stroke-width="4.8" shape-rendering="crispEdges"/><text class="lg" x="1532" y="1312.92">Reference set</text></svg></body></html>
